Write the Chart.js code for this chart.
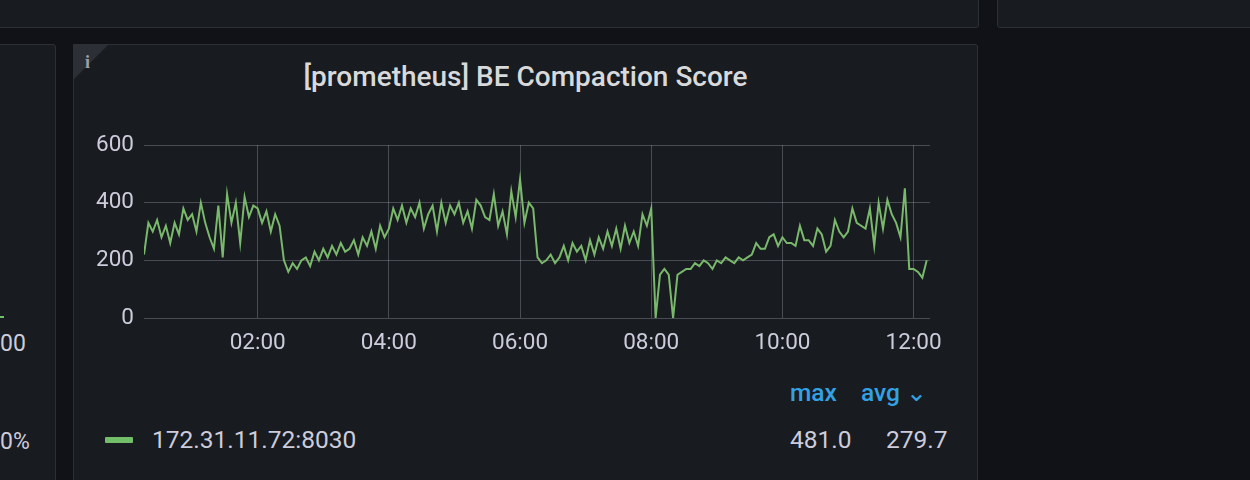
<!DOCTYPE html><html><head><meta charset="utf-8">
<script src="https://cdn.jsdelivr.net/npm/chart.js@4/dist/chart.umd.min.js"></script>
<style>
body{margin:0;background:#111217;width:1250px;height:480px;overflow:hidden;font-family:Roboto,"Noto Sans",sans-serif;color:#ccccdc}
.p{position:absolute;background:#181b1f;border:1px solid #2c2f36;border-radius:3px;box-sizing:border-box}
#t{position:absolute;left:73px;width:905px;top:60px;text-align:center;font-size:28px;font-weight:500;color:#d8d9da}
.l{position:absolute;font-size:24.5px;line-height:24px}
</style></head><body>
<div class="p" style="left:-10px;top:-10px;width:989px;height:38px"></div>
<div class="p" style="left:997px;top:-10px;width:270px;height:38px"></div>
<div class="p" style="left:-10px;top:44px;width:66px;height:450px"></div>
<div class="p" style="left:73px;top:44px;width:905px;height:450px"></div>
<div style="position:absolute;left:73px;top:44px;width:0;height:0;border-top:36px solid #2c2f36;border-right:36px solid transparent"></div>
<div style="position:absolute;left:85px;top:52px;font-size:18px;font-weight:bold;color:#9fa1a7;font-family:serif">i</div>
<div style="position:absolute;left:0;top:330px;font-size:23px">00</div>
<div style="position:absolute;left:0;top:428px;font-size:23px">0%</div>
<div style="position:absolute;left:0;top:316px;width:4px;height:2px;background:#73bf69"></div>
<div id="t">[prometheus] BE Compaction Score</div>
<canvas id="c" width="905" height="330" style="position:absolute;left:73px;top:44px"></canvas>
<div class="l" style="left:790px;top:381px;color:#33a2e5;font-weight:500">max</div>
<div class="l" style="left:861px;top:381px;color:#33a2e5;font-weight:500">avg ⌄</div>
<div style="position:absolute;left:105px;top:437px;width:28px;height:6px;background:#73bf69;border-radius:1px"></div>
<div class="l" style="left:152px;top:428px">172.31.11.72:8030</div>
<div class="l" style="left:790px;top:428px">481.0</div>
<div class="l" style="left:886px;top:428px">279.7</div>
<script>
const startMinute=16, stepMinutes=4;
const timeTicks=[120,240,360,480,600,720];
const tickLabels=["02:00","04:00","06:00","08:00","10:00","12:00"];
const yTicks=[0,200,400,600];
const seriesName="172.31.11.72:8030";
const values=[220,330,300,340,280,320,260,330,290,380,340,360,300,400,330,280,240,390,210,430,330,400,260,420,350,390,380,
330,370,300,360,320,
200,160,190,170,200,
210,180,230,200,240,210,250,220,260,230,240,270,220,280,250,300,240,320,280,310,
380,340,390,330,380,350,400,310,360,390,300,400,330,390,360,400,330,370,310,410,390,350,340,430,320,370,290,440,350,481,
330,400,380,210,190,
200,220,190,210,250,200,260,230,250,200,270,220,280,240,300,250,310,240,320,260,300,250,360,320,380,
0,150,170,150,0,150,
160,170,170,190,180,200,190,170,200,190,210,200,190,210,200,210,220,260,240,240,280,290,250,280,
260,260,250,320,270,270,250,310,290,230,250,340,300,280,300,
380,330,320,310,380,250,400,310,410,360,330,280,450,170,
170,160,140,200];
const pts=values.map((v,i)=>({x:startMinute+i*stepMinutes,y:v}));
const g='rgba(204,204,220,0.28)';
new Chart(document.getElementById('c'),{type:'line',
data:{datasets:[{label:seriesName,data:pts,borderColor:'#7ab86c',borderWidth:2,pointRadius:0,tension:0}]},
options:{responsive:false,animation:false,devicePixelRatio:1,
layout:{padding:{top:101,right:48,left:0,bottom:0}},
plugins:{legend:{display:false},tooltip:{enabled:false}},
scales:{
x:{type:'linear',min:16,max:735,afterBuildTicks:s=>{s.ticks=timeTicks.map(v=>({value:v}))},afterFit:s=>{s.height=56},
 ticks:{color:'#ccccdc',font:{size:22.5,family:'Roboto'},padding:12,maxRotation:0,callback:(v)=>tickLabels[timeTicks.indexOf(v)]},
 grid:{color:g,drawTicks:false},border:{display:false}},
y:{min:0,max:600,afterBuildTicks:s=>{s.ticks=yTicks.map(v=>({value:v}))},afterFit:s=>{s.width=71},
 ticks:{color:'#ccccdc',font:{size:22.5,family:'Roboto'},padding:10},
 grid:{color:g,drawTicks:false},border:{display:false}}}}});
</script>
</body></html>
